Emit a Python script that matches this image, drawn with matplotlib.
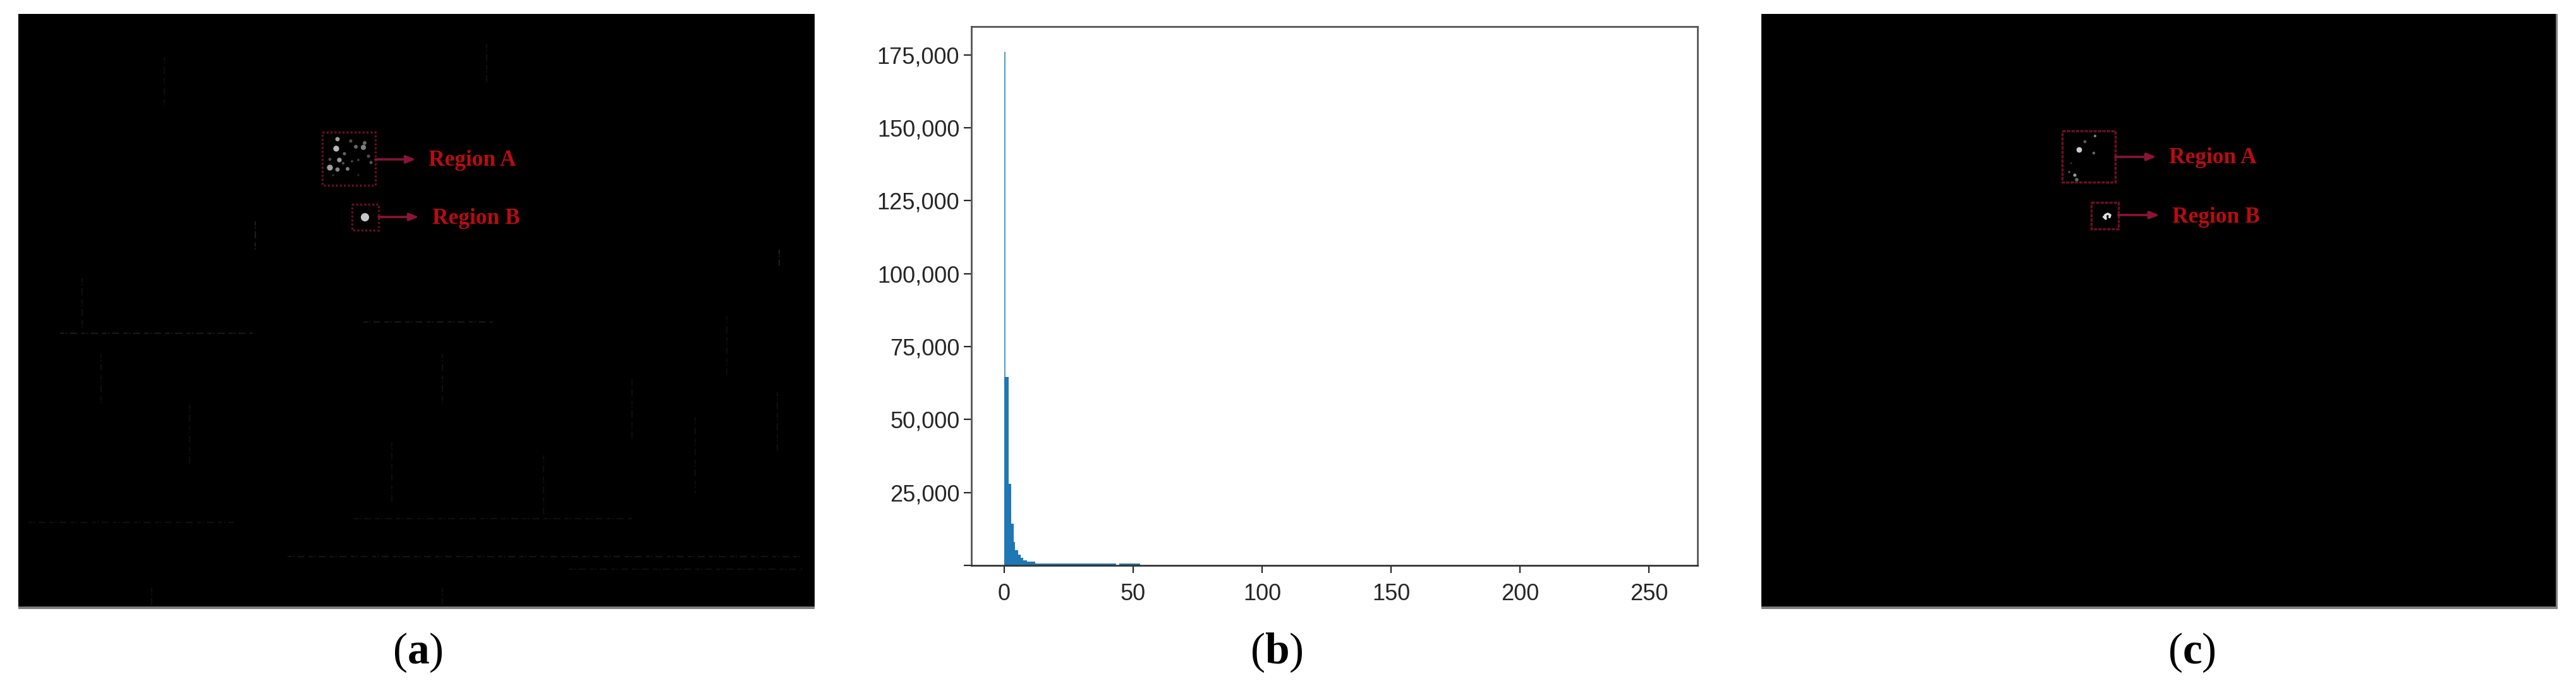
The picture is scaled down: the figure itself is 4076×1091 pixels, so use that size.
import matplotlib
matplotlib.use('Agg')
import matplotlib.pyplot as plt
from matplotlib.patches import Rectangle

W, H = 4076, 1091

plt.rcParams['font.family'] = ['Liberation Sans', 'DejaVu Sans']
plt.rcParams['mathtext.fontset'] = 'custom'
plt.rcParams['mathtext.rm'] = 'Liberation Serif'
plt.rcParams['mathtext.bf'] = 'Liberation Serif:bold'

# histogram (b)
peak_value = 176000
peak_width = 0.55
bin_edges = [0, 1.7, 2.7, 3.75, 4.2, 5.3, 6.4, 7.4, 8.8, 12.0, 43.5, 44.7, 52.6]
bin_counts = [64500, 28000, 14300, 8000, 5200, 3700, 2700, 1700, 1200, 750, 0, 750]
x_ticks = [0, 50, 100, 150, 200, 250]
y_ticks = [25000, 50000, 75000, 100000, 125000, 150000, 175000]
y_tick_zero = 0

# panel (a), bright specks: x px, y px, size, grey
a_specks_x = [532, 522, 537, 575, 563, 545, 550, 534, 557, 583, 555, 587, 522, 567, 543, 527, 567, 577, 534]
a_specks_y = [235, 265, 253, 233, 232, 243, 267, 268, 255, 247, 223, 257, 252, 253, 258, 277, 277, 226, 220]
a_specks_s = [45, 45, 28, 35, 18, 14, 18, 24, 8, 14, 14, 12, 12, 8, 10, 6, 6, 18, 24]
a_specks_g = [0.72, 0.62, 0.6, 0.5, 0.42, 0.38, 0.5, 0.52, 0.25, 0.3, 0.32, 0.34, 0.3, 0.25, 0.3, 0.2, 0.16, 0.42, 0.62]
a_star_x = [577]
a_star_y = [343]
a_star_s = [90]
a_star_g = [0.78]

# panel (a), faint background streaks: x0, x1, y0, y1, grey
streak_x0 = [95, 575, 45, 455, 560, 900, 130, 404, 1233, 160, 700, 1000, 1150, 300, 620, 860, 1100, 1230, 260, 770, 240, 700]
streak_x1 = [400, 780, 370, 1270, 1000, 1270, 130, 404, 1233, 160, 700, 1000, 1150, 300, 620, 860, 1100, 1230, 260, 770, 240, 700]
streak_y0 = [527, 509, 826, 880, 820, 900, 440, 350, 395, 560, 560, 600, 500, 640, 700, 720, 660, 620, 90, 70, 930, 930]
streak_y1 = [527, 509, 826, 880, 820, 900, 520, 395, 420, 640, 640, 700, 600, 740, 800, 820, 780, 720, 170, 130, 959, 959]
streak_g = [0.1, 0.09, 0.06, 0.08, 0.06, 0.06, 0.06, 0.11, 0.11, 0.05, 0.06, 0.05, 0.05, 0.05, 0.05, 0.05, 0.05, 0.06, 0.05, 0.06, 0.06, 0.05]

# panel (c), specks
c_specks_x = [3290, 3299, 3315, 3313, 3283, 3286, 3274, 3277]
c_specks_y = [237, 224, 215, 242, 277, 284, 272, 258]
c_specks_s = [40, 12, 9, 10, 14, 16, 6, 4]
c_specks_g = [0.8, 0.35, 0.5, 0.4, 0.6, 0.4, 0.35, 0.22]
c_arc_x = [3329, 3332, 3331, 3335, 3339, 3338]
c_arc_y = [343, 346, 340, 338, 340, 343]

# annotations, one row per panel
box_a = [[510, 209, 84, 84], [557, 323, 42, 41]]
box_c = [[3263, 207, 84, 81], [3309, 320, 43, 42]]
arrows_a = [[594, 658, 252], [599, 663, 343]]
arrows_c = [[3347, 3412, 248], [3352, 3417, 340]]
labels_a = [[678, 253, 'Region A'], [684, 345, 'Region B']]
labels_c = [[3432, 250, 'Region A'], [3437, 343, 'Region B']]

captions = ['(a)', '(b)', '(c)']
captions_x = [661, 2020, 3468]


def px_axes(x0, y0, x1, y1):
    # axes placed by reference pixel coords
    return fig.add_axes([x0 / W, 1 - y1 / H, (x1 - x0) / W, (y1 - y0) / H])


def image_panel(x0, y0, x1, y1, strip_right):
    back = px_axes(x0, y0, x1 + strip_right, 963)
    back.set_facecolor('#7f7f7f')
    back.set_xticks([])
    back.set_yticks([])
    for s in back.spines.values():
        s.set_visible(False)
    ax = px_axes(x0, y0, x1, y1)
    ax.set_facecolor('black')
    ax.set_xlim(x0, x1)
    ax.set_ylim(y1, y0)
    ax.set_xticks([])
    ax.set_yticks([])
    for s in ax.spines.values():
        s.set_visible(False)
    return ax


def region_marks(ax, boxes, arrows, labels, style):
    for b in boxes:
        ax.add_patch(Rectangle((b[0], b[1]), b[2], b[3], fill=False, edgecolor='#6e1024',
                               lw=2.4, linestyle=style))
    for a in arrows:
        ax.annotate('', xy=(a[1], a[2]), xytext=(a[0], a[2]),
                    arrowprops=dict(arrowstyle='-|>,head_length=0.9,head_width=0.35',
                                    color='#8a1436', lw=2.6, shrinkA=0, shrinkB=0))
    for t in labels:
        ax.text(t[0], t[1], t[2], color='#b80c12', family=['Liberation Serif'], fontweight='bold',
                fontsize=25.5, ha='left', va='center')


def grey(vals):
    return [(g, g, g) for g in vals]


fig = plt.figure(figsize=(W / 100, H / 100), dpi=100, facecolor='white')

# (a)
ax_a = image_panel(29, 22, 1289, 959, 0)
for i in range(len(streak_x0)):
    g = streak_g[i]
    ax_a.plot([streak_x0[i], streak_x1[i]], [streak_y0[i], streak_y1[i]], color=(g, g, g),
              lw=1.6, linestyle=(0, (3, 1, 1, 2, 5, 3)))
ax_a.scatter(a_specks_x, a_specks_y, s=a_specks_s, c=grey(a_specks_g), marker='o', linewidths=0)
ax_a.scatter(a_star_x, a_star_y, s=a_star_s, c=grey(a_star_g), marker='o', linewidths=0)
region_marks(ax_a, box_a, arrows_a, labels_a, (0, (0.9, 1.0)))

# (b)
ax_b = px_axes(1537, 42, 2686, 894)
ax_b.bar(peak_width / 2, peak_value, width=peak_width, color='#4f9bd6')
ax_b.stairs(bin_counts, bin_edges, fill=True, color='#1f77b4')
ax_b.set_xlim(-12.75, 268.9)
ax_b.set_ylim(0, 184700)
ax_b.set_xticks(x_ticks)
ax_b.set_yticks([y_tick_zero] + y_ticks)
ax_b.set_yticklabels([''] + [f'{v:,}' for v in y_ticks])
ax_b.tick_params(axis='both', labelsize=26, colors='#262626', length=8.5, width=1.6, pad=5)
ax_b.tick_params(axis='x', pad=12)
for s in ax_b.spines.values():
    s.set_color('#555555')
    s.set_linewidth(2.0)
ax_b.spines['bottom'].set_color('#333333')

# (c)
ax_c = image_panel(2787, 22, 4044, 959, 3)
ax_c.scatter(c_specks_x, c_specks_y, s=c_specks_s, c=grey(c_specks_g), marker='o', linewidths=0)
ax_c.plot(c_arc_x, c_arc_y, color='#e0e0e0', lw=2.6)
region_marks(ax_c, box_c, arrows_c, labels_c, (0, (1.6, 0.5)))

# captions
for cap, cx in zip(captions, captions_x):
    fig.text(cx / W, 1 - 1032 / H, '(' + r'$\mathbf{' + cap[1] + '}$' + ')', family=['Liberation Serif'],
             fontsize=50, color='black', ha='center', va='center')

fig.savefig('out.png', dpi=100, facecolor='white')
